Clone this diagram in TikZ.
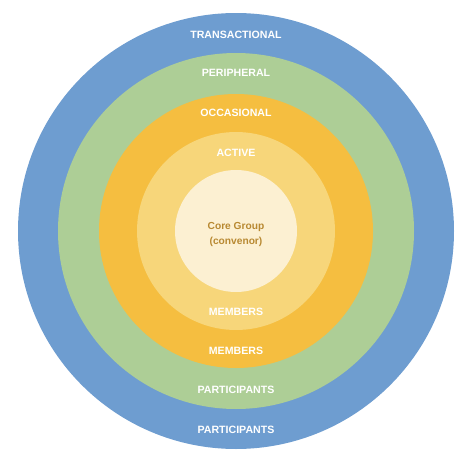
\documentclass[tikz,border=0pt]{standalone}
\usepackage{fontspec}
\setmainfont{Liberation Sans}
\definecolor{ringblue}{RGB}{110,157,208}
\definecolor{ringgreen}{RGB}{173,206,150}
\definecolor{ringorange}{RGB}{245,190,64}
\definecolor{ringyellow}{RGB}{247,214,122}
\definecolor{ringcream}{RGB}{252,240,210}
\definecolor{coretext}{RGB}{184,137,50}
\begin{document}
\begin{tikzpicture}[x=1pt,y=-1pt,
  lbl/.style={text=white,font=\bfseries\fontsize{10.6}{12}\selectfont},
  corelbl/.style={text=coretext,align=center,font=\bfseries\fontsize{10.2}{15}\selectfont}]
\useasboundingbox (0,0) rectangle (474,463);
\coordinate (c) at (236,231);
%rings from outside in
\fill[ringblue] (c) circle (218pt);
\fill[ringgreen] (c) circle (178pt);
\fill[ringorange] (c) circle (137pt);
\fill[ringyellow] (c) circle (99pt);
\fill[ringcream] (c) circle (61pt);

%upper labels
\node[lbl] (transactional) at (236,35) {TRANSACTIONAL};
\node[lbl] (peripheral) at (236,73) {PERIPHERAL};
\node[lbl] (occasional) at (236,113) {OCCASIONAL};
\node[lbl] (active) at (236,153) {ACTIVE};

\node[corelbl] (core) at (236,234) {Core Group\\(convenor)};

%lower labels
\node[lbl] (activemembers) at (236,312) {MEMBERS};
\node[lbl] (occmembers) at (236,351) {MEMBERS};
\node[lbl] (periparticipants) at (236,390) {PARTICIPANTS};
\node[lbl] (transparticipants) at (236,430) {PARTICIPANTS};
\end{tikzpicture}
\end{document}
